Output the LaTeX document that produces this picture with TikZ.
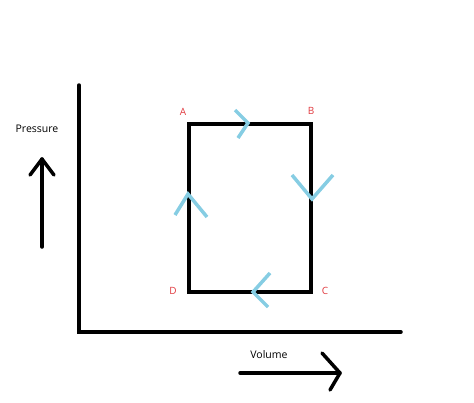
\documentclass[tikz,border=0pt]{standalone}
\usepackage{fontspec}
\setmainfont{Open Sans}
\definecolor{lblred}{HTML}{E0393E}
\definecolor{chev}{HTML}{86CDE3}
\tikzset{
  axis/.style={line width=3.5pt, line cap=round},
  box/.style={line width=4pt, line join=miter},
  chevron/.style={chev, line width=3.5pt},
  arr/.style={line width=3.5pt, line cap=round, line join=round},
  corner/.style={text=lblred, font=\fontsize{10}{11}\selectfont, inner sep=0pt},
  axlabel/.style={font=\fontsize{10.5}{12}\selectfont, inner sep=0pt}
}
\begin{document}
\begin{tikzpicture}[x=1pt,y=-1pt]
\useasboundingbox (0,0) rectangle (474,402);
% axes
\coordinate (O) at (79,332);
\coordinate (Ytop) at (79,85);
\coordinate (Xend) at (401,332);
\draw[axis] (Ytop) -- (O) -- (Xend);
% cycle corners
\coordinate (A) at (189,124);
\coordinate (B) at (311,124);
\coordinate (C) at (311,292);
\coordinate (D) at (189,292);
\draw[box] (A) -- (B) -- (C) -- (D) -- cycle;
% corner labels
\node[corner] (lA) at (183,112) {A};
\node[corner] (lB) at (311,111) {B};
\node[corner] (lC) at (325,291) {C};
\node[corner] (lD) at (173,291) {D};
% direction chevrons
\draw[chevron] (235,110) -- (248,123) -- (238,138);
\draw[chevron] (292,175) -- (312,199) -- (333,175);
\draw[chevron] (175,215) -- (188,194) -- (207,217);
\draw[chevron] (270,273) -- (253,292) -- (268,307);
% axis labels
\node[axlabel] (P) at (37,129) {Pressure};
\node[axlabel] (V) at (269,355) {Volume};
% pressure arrow
\coordinate (Pb) at (42,247);
\coordinate (Pt) at (42,159);
\draw[arr] (Pb) -- (Pt);
\draw[arr] (30,175) -- (Pt) -- (54,175);
% volume arrow
\coordinate (Vl) at (240,373);
\coordinate (Vr) at (340,373);
\draw[arr] (Vl) -- (Vr);
\draw[arr] (322,353) -- (Vr) -- (330,390);
\end{tikzpicture}
\end{document}
